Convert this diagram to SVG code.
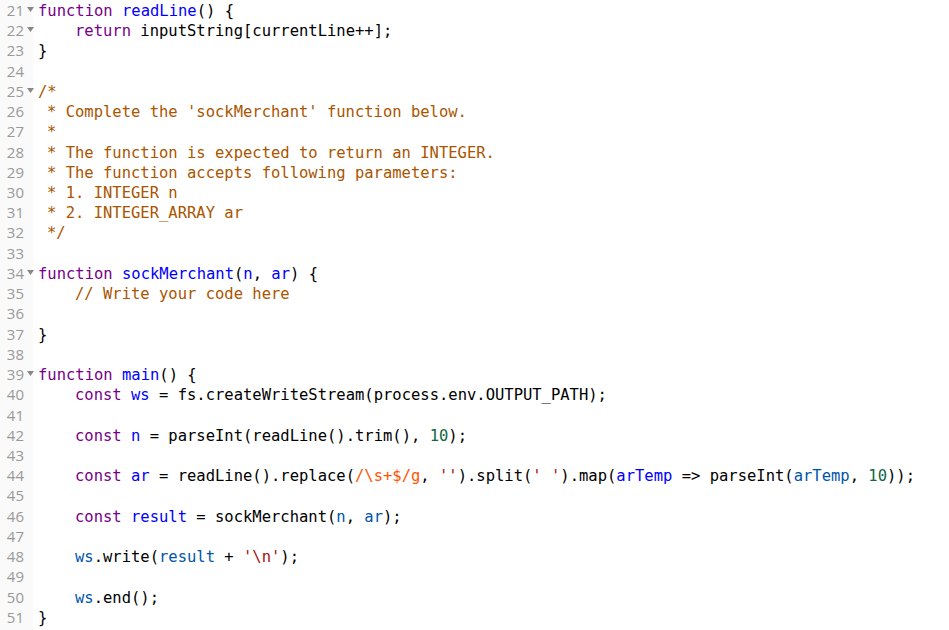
<svg xmlns="http://www.w3.org/2000/svg" width="949" height="630" viewBox="0 0 949 630">
<style>
.c{font-family:"DejaVu Sans Mono",monospace;font-size:15.5px;fill:#000}
.ln{font-family:"Open Sans","DejaVu Sans",sans-serif;font-size:15px;fill:#999;text-anchor:end}
.k{fill:#770088}.d{fill:#0000ff}.v{fill:#0055aa}.cm{fill:#aa5500}.n{fill:#116644}.s{fill:#aa1111}.r{fill:#ff5500}
.f{fill:#888}
</style>
<rect width="949" height="630" fill="#fff"/>
<rect width="33" height="630" fill="#fafafa"/>
<g id="gutter">
<text class="ln" x="24" y="16">21</text><text class="ln" x="24" y="36">22</text><text class="ln" x="24" y="56">23</text><text class="ln" x="24" y="77">24</text><text class="ln" x="24" y="97">25</text><text class="ln" x="24" y="117">26</text><text class="ln" x="24" y="137">27</text><text class="ln" x="24" y="158">28</text><text class="ln" x="24" y="178">29</text><text class="ln" x="24" y="198">30</text><text class="ln" x="24" y="218">31</text><text class="ln" x="24" y="238">32</text><text class="ln" x="24" y="259">33</text><text class="ln" x="24" y="279">34</text><text class="ln" x="24" y="299">35</text><text class="ln" x="24" y="319">36</text><text class="ln" x="24" y="340">37</text><text class="ln" x="24" y="360">38</text><text class="ln" x="24" y="380">39</text><text class="ln" x="24" y="400">40</text><text class="ln" x="24" y="421">41</text><text class="ln" x="24" y="441">42</text><text class="ln" x="24" y="461">43</text><text class="ln" x="24" y="481">44</text><text class="ln" x="24" y="501">45</text><text class="ln" x="24" y="522">46</text><text class="ln" x="24" y="542">47</text><text class="ln" x="24" y="562">48</text><text class="ln" x="24" y="582">49</text><text class="ln" x="24" y="603">50</text><text class="ln" x="24" y="623">51</text>
<path class="f" d="M27 7h7l-3.5 5z M27 27h7l-3.5 5z M27 88h7l-3.5 5z M27 270h7l-3.5 5z M27 371h7l-3.5 5z"/>
</g>
<g id="code" class="c" xml:space="preserve">
<text x="38" y="16"><tspan class="k">function</tspan> <tspan class="d">readLine</tspan>() {</text>
<text x="75" y="36"><tspan class="k">return</tspan> inputString[currentLine++];</text>
<text x="38" y="56">}</text>
<text x="38" y="97" class="cm">/*</text>
<text x="47" y="117" class="cm">* Complete the 'sockMerchant' function below.</text>
<text x="47" y="137" class="cm">*</text>
<text x="47" y="158" class="cm">* The function is expected to return an INTEGER.</text>
<text x="47" y="178" class="cm">* The function accepts following parameters:</text>
<text x="47" y="198" class="cm">*  1. INTEGER n</text>
<text x="47" y="218" class="cm">*  2. INTEGER_ARRAY ar</text>
<text x="47" y="238" class="cm">*/</text>
<text x="38" y="279"><tspan class="k">function</tspan> <tspan class="d">sockMerchant</tspan>(<tspan class="d">n</tspan>, <tspan class="d">ar</tspan>) {</text>
<text x="75" y="299" class="cm">// Write your code here</text>
<text x="38" y="340">}</text>
<text x="38" y="380"><tspan class="k">function</tspan> <tspan class="d">main</tspan>() {</text>
<text x="75" y="400"><tspan class="k">const</tspan> <tspan class="d">ws</tspan> = fs.createWriteStream(process.env.OUTPUT_PATH);</text>
<text x="75" y="441"><tspan class="k">const</tspan> <tspan class="d">n</tspan> = parseInt(readLine().trim(), <tspan class="n">10</tspan>);</text>
<text x="75" y="481"><tspan class="k">const</tspan> <tspan class="d">ar</tspan> = readLine().replace(<tspan class="r">/\s+$/g</tspan>, <tspan class="s">''</tspan>).split(<tspan class="s">' '</tspan>).map(<tspan class="d">arTemp</tspan> =&gt; parseInt(<tspan class="v">arTemp</tspan>, <tspan class="n">10</tspan>));</text>
<text x="75" y="522"><tspan class="k">const</tspan> <tspan class="d">result</tspan> = sockMerchant(<tspan class="v">n</tspan>, <tspan class="v">ar</tspan>);</text>
<text x="75" y="562"><tspan class="v">ws</tspan>.write(<tspan class="v">result</tspan> + <tspan class="s">'\n'</tspan>);</text>
<text x="75" y="603"><tspan class="v">ws</tspan>.end();</text>
<text x="38" y="623">}</text>
</g>
</svg>
